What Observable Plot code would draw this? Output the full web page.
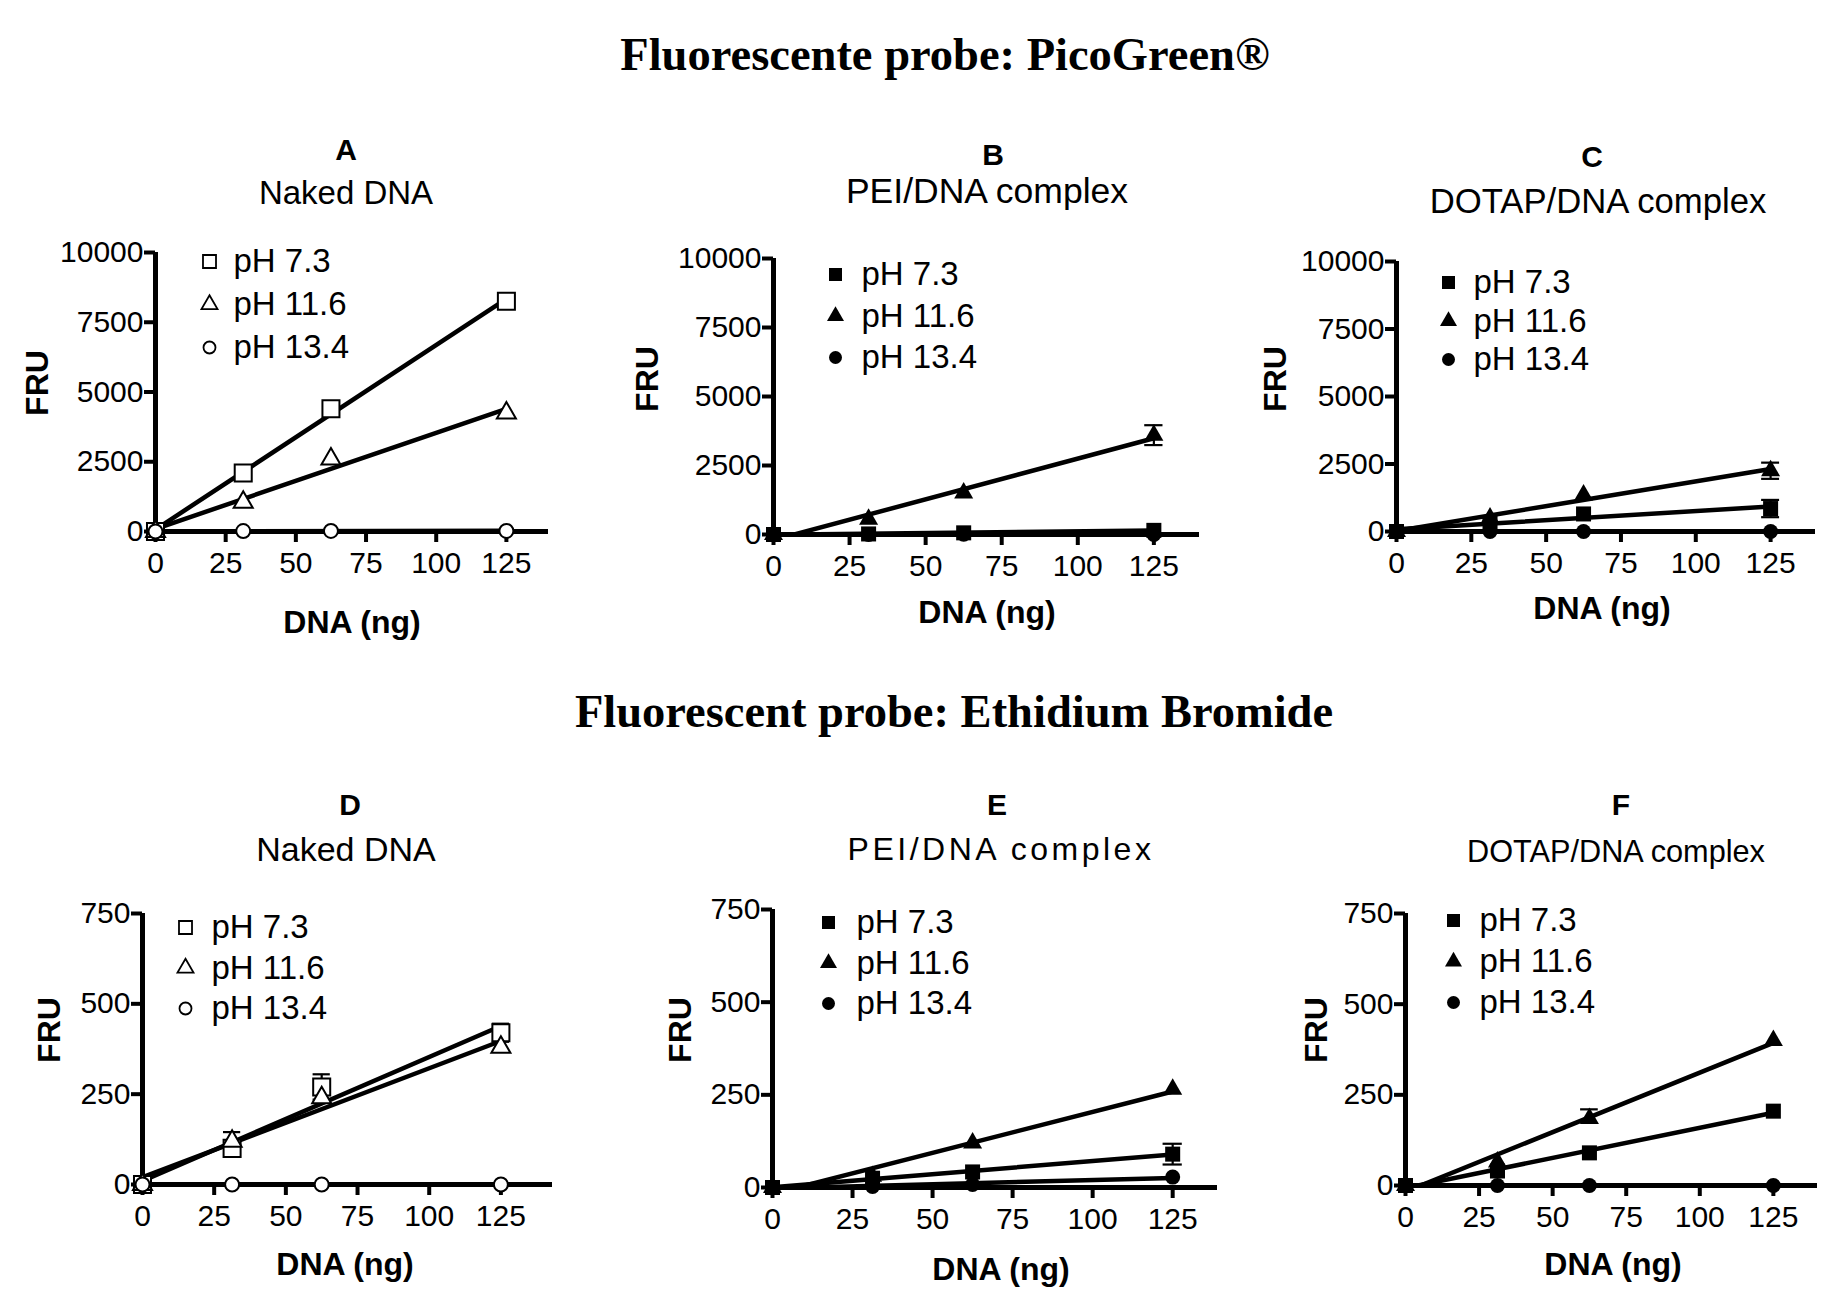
<!DOCTYPE html>
<html>
<head>
<meta charset="utf-8">
<script src="https://cdn.jsdelivr.net/npm/d3@7"></script>
<script src="https://cdn.jsdelivr.net/npm/@observablehq/plot@0.6"></script>
<style>
  body { margin: 0; background: #fff; }
  #fig { position: relative; width: 1829px; height: 1299px; background: #fff; color: #000;
         font-family: "Liberation Sans", Arial, Helvetica, sans-serif; overflow: hidden; }
  .t { position: absolute; transform: translate(-50%, -50%); white-space: nowrap; line-height: 1; }
  .main { font-family: "Liberation Serif", "Times New Roman", serif; font-weight: bold; font-size: 46.5px; }
  .letter { font-weight: bold; font-size: 30px; }
  .axt { font-weight: bold; font-size: 32px; }
  .fru { transform: translate(-50%, -50%) rotate(-90deg); }
  .panel { position: absolute; }
</style>
</head>
<body>
<div id="fig"></div>
<script>
// DNA amounts (ng) in each well
const dnaNg = [0, 31.25, 62.5, 125];
const phLabels = ["pH 7.3", "pH 11.6", "pH 13.4"];
const phSymbols = ["square", "triangle", "circle"];

// Fluorescence (FRU), one row per pH: 7.3, 11.6, 13.4
const picoNaked = [[0, 2100, 4400, 8250], [0, 1050, 2600, 4250], [0, 15, 20, 20]];
const picoNakedSd = [[0, 0, 0, 0], [0, 0, 0, 0], [0, 0, 0, 0]];
const picoPei = [[0, 20, 60, 150], [0, 550, 1500, 3600], [0, 0, 10, 0]];
const picoPeiSd = [[0, 0, 0, 0], [0, 0, 0, 360], [0, 0, 0, 0]];
const picoDotap = [[0, 300, 650, 850], [0, 500, 1350, 2250], [0, 0, 0, 0]];
const picoDotapSd = [[0, 0, 0, 320], [0, 0, 0, 300], [0, 0, 0, 0]];
const ethNaked = [[0, 100, 270, 420], [0, 120, 240, 380], [0, 0, 0, 0]];
const ethNakedSd = [[0, 0, 35, 25], [0, 25, 0, 0], [0, 0, 0, 0]];
const ethPei = [[0, 25, 42, 90], [0, 30, 120, 265], [0, 3, 8, 28]];
const ethPeiSd = [[0, 0, 0, 28], [0, 0, 0, 0], [0, 0, 0, 0]];
const ethDotap = [[0, 40, 90, 205], [0, 65, 185, 400], [0, 0, 0, 0]];
const ethDotapSd = [[0, 0, 0, 0], [0, 0, 0, 0], [0, 0, 0, 0]];
const ethDotapSdUp = [[0, 0, 0, 0], [0, 0, 25, 0], [0, 0, 0, 0]];

const xTicks = [0, 25, 50, 75, 100, 125];
const picoTicks = [0, 2500, 5000, 7500, 10000];
const ethTicks = [0, 250, 500, 750];

const titles = [
  { text: "Fluorescente probe: PicoGreen®", x: 945, y: 55 },
  { text: "Fluorescent probe: Ethidium Bromide", x: 954, y: 712 }
];

// Panel layout: frame corners (x0 = DNA 0, x125 = DNA 125, y0 = FRU 0, yTop = top tick) and text anchors
const panels = [
  { letter: "A", sub: "Naked DNA", values: picoNaked, sd: picoNakedSd, ticks: picoTicks, open: true, xMax: 140,
    x0: 155, x125: 506, y0: 531, yTop: 252, letterAt: [346, 150], subAt: [346, 192], subSize: 33, subSpacing: 0,
    fruAt: [37, 383], dnaAt: [352, 622], leg: { sym: 54, txt: 78, top: 9, gap: 43 } },
  { letter: "B", sub: "PEI/DNA complex", values: picoPei, sd: picoPeiSd, ticks: picoTicks, open: false, xMax: 140,
    x0: 773, x125: 1153, y0: 534, yTop: 258, letterAt: [993, 155], subAt: [987, 192], subSize: 35.5, subSpacing: 0,
    fruAt: [647, 379], dnaAt: [987, 612], leg: { sym: 62, txt: 88, top: 16, gap: 41.5 } },
  { letter: "C", sub: "DOTAP/DNA complex", values: picoDotap, sd: picoDotapSd, ticks: picoTicks, open: false, xMax: 140,
    x0: 1396, x125: 1770, y0: 531, yTop: 261, letterAt: [1592, 157], subAt: [1598, 201], subSize: 34.7, subSpacing: 0,
    fruAt: [1275, 379], dnaAt: [1602, 608], leg: { sym: 52, txt: 77, top: 21, gap: 38.5 } },
  { letter: "D", sub: "Naked DNA", values: ethNaked, sd: ethNakedSd, ticks: ethTicks, open: true, xMax: 143,
    x0: 142, x125: 500, y0: 1184, yTop: 913, letterAt: [350, 805], subAt: [346, 849], subSize: 34, subSpacing: 0,
    fruAt: [49, 1030], dnaAt: [345, 1264], leg: { sym: 43, txt: 69, top: 14, gap: 40.5 } },
  { letter: "E", sub: "PEI/DNA complex", values: ethPei, sd: ethPeiSd, ticks: ethTicks, open: false, xMax: 139,
    x0: 772, x125: 1172, y0: 1187, yTop: 909, letterAt: [997, 805], subAt: [1001, 849], subSize: 32, subSpacing: 3.5,
    fruAt: [680, 1030], dnaAt: [1001, 1269], leg: { sym: 56, txt: 84, top: 13, gap: 40.5 } },
  { letter: "F", sub: "DOTAP/DNA complex", values: ethDotap, sd: ethDotapSd, sdUp: ethDotapSdUp, ticks: ethTicks, open: false, xMax: 140,
    x0: 1405, x125: 1773, y0: 1185, yTop: 913, letterAt: [1621, 805], subAt: [1616, 852], subSize: 30.7, subSpacing: 0,
    fruAt: [1316, 1030], dnaAt: [1613, 1264], leg: { sym: 48, txt: 74, top: 7, gap: 41 } }
];

const fig = document.getElementById("fig");
const fontStack = "'Liberation Sans', Arial, Helvetica, sans-serif";

function label(text, cls, at, extra = {}) {
  const el = document.createElement("div");
  el.className = "t " + cls;
  el.textContent = text;
  el.style.left = at[0] + "px";
  el.style.top = at[1] + "px";
  Object.assign(el.style, extra);
  fig.appendChild(el);
}

titles.forEach(t => label(t.text, "main", [t.x, t.y]));

// Symbol r so that squares, triangles and circles share a similar outer size
const rFactor = { square: 1.77, triangle: 2.69, circle: 2 };
function symR(symbol, size) { return size / rFactor[symbol]; }

const ML = 110, MT = 24, MR = 16, MB = 60;
const capHalf = 3; // half width of error-bar caps, in ng

panels.forEach(p => {
  const yMax = p.ticks[p.ticks.length - 1];
  const xMax = p.xMax;
  const pxPerNg = (p.x125 - p.x0) / 125;
  const fw = pxPerNg * xMax;
  const fh = p.y0 - p.yTop;

  const rows = [];
  p.values.forEach((vals, s) => vals.forEach((v, i) =>
    rows.push({ x: dnaNg[i], y: v, sd: p.sd[s][i], up: p.sdUp ? p.sdUp[s][i] : 0, ph: phLabels[s], s })));
  const errRows = rows.filter(d => d.sd > 0);
  const upRows = rows.filter(d => d.up > 0);

  const dataSize = p.open ? { square: 17, triangle: 19, circle: 14 } : { square: 15, triangle: 19, circle: 15 };
  const legSize = p.open ? { square: 13, triangle: 16, circle: 12 } : { square: 13, triangle: 17, circle: 13 };
  const fill = p.open ? "white" : "black";
  const stroke = p.open ? "black" : "none";

  const marks = [
    Plot.axisX({ ticks: xTicks, tickSize: 11, tickPadding: 9, strokeWidth: 4, fontSize: 30, label: null }),
    Plot.axisY({ ticks: p.ticks, tickSize: 11, tickPadding: 1, strokeWidth: 4, fontSize: 30,
                 tickFormat: d3.format("d"), label: null }),
    Plot.ruleY([0], { x1: 0, x2: xMax, strokeWidth: 5 }),
    Plot.ruleX([0], { y1: 0, y2: yMax, strokeWidth: 5 }),
    Plot.linearRegressionY(rows, { x: "x", y: "y", z: "ph", stroke: "black", strokeWidth: 4.5, ci: 0, clip: true }),
    // mean ± SD
    Plot.ruleX(errRows, { x: "x", y1: d => d.y - d.sd, y2: d => d.y + d.sd, strokeWidth: 2.2 }),
    Plot.ruleY(errRows, { y: d => d.y + d.sd, x1: d => d.x - capHalf, x2: d => d.x + capHalf, strokeWidth: 2.2 }),
    Plot.ruleY(errRows, { y: d => d.y - d.sd, x1: d => d.x - capHalf, x2: d => d.x + capHalf, strokeWidth: 2.2 }),
    // upper SD only
    Plot.ruleX(upRows, { x: "x", y1: "y", y2: d => d.y + d.up, strokeWidth: 2.2 }),
    Plot.ruleY(upRows, { y: d => d.y + d.up, x1: d => d.x - capHalf, x2: d => d.x + capHalf, strokeWidth: 2.2 })
  ];

  phSymbols.forEach((sym, s) => {
    marks.push(Plot.dot(rows.filter(d => d.s === s), {
      x: "x", y: "y", symbol: sym, r: symR(sym, dataSize[sym]),
      fill, stroke, strokeWidth: 2
    }));
  });

  // in-frame legend, one entry per pH
  phSymbols.forEach((sym, s) => {
    marks.push(Plot.dot([phLabels[s]], {
      frameAnchor: "top-left", dx: p.leg.sym, dy: p.leg.top + s * p.leg.gap,
      symbol: sym, r: symR(sym, legSize[sym]), fill, stroke, strokeWidth: 1.8
    }));
    marks.push(Plot.text([phLabels[s]], {
      frameAnchor: "top-left", dx: p.leg.txt, dy: p.leg.top + s * p.leg.gap,
      text: d => d, textAnchor: "start", lineAnchor: "middle", fontSize: 33, fill: "black"
    }));
  });

  const chart = Plot.plot({
    width: Math.round(fw + ML + MR), height: Math.round(fh + MT + MB),
    marginLeft: ML, marginTop: MT, marginRight: MR, marginBottom: MB,
    x: { domain: [0, xMax] },
    y: { domain: [0, yMax] },
    style: { fontFamily: fontStack, color: "black", background: "transparent", overflow: "visible" },
    marks
  });
  chart.classList.add("panel");
  chart.style.left = (p.x0 - ML) + "px";
  chart.style.top = (p.yTop - MT) + "px";
  fig.appendChild(chart);

  label(p.letter, "letter", p.letterAt);
  label(p.sub, "sub", p.subAt, { fontSize: p.subSize + "px", letterSpacing: p.subSpacing + "px" });
  label("FRU", "axt fru", p.fruAt);
  label("DNA (ng)", "axt", p.dnaAt);
});
</script>
</body>
</html>
